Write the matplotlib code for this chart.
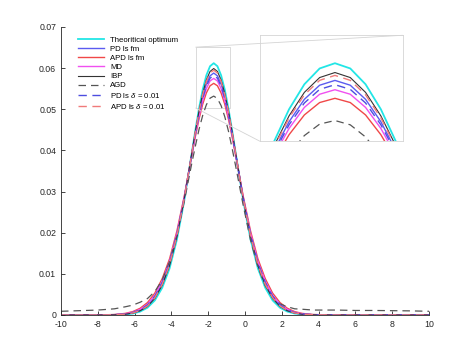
import numpy as np
import matplotlib
matplotlib.use("Agg")
import matplotlib.pyplot as plt
from matplotlib.patches import Rectangle, ConnectionPatch

plt.rcParams['font.family'] = ['Liberation Sans', 'DejaVu Sans']
plt.rcParams['axes.unicode_minus'] = False
plt.rcParams['mathtext.fontset'] = 'custom'
plt.rcParams['mathtext.it'] = 'Liberation Sans:italic'
plt.rcParams['mathtext.rm'] = 'Liberation Sans'

# grid points (support of the discrete measures)
x = [-10, -9, -8, -7.1, -6.5, -6.1, -5.7, -5.3, -4.9, -4.5, -4.1, -3.7, -3.3, -2.9,
     -2.7, -2.5, -2.3, -2.1, -1.9, -1.7, -1.5, -1.3, -1.1, -0.9, -0.7,
     -0.5, -0.1, 0.3, 0.7, 1.1, 1.5, 1.9, 2.3, 2.7, 3.1, 3.7, 5, 6, 7, 8, 9, 10]

theory = [0, 0, 0, 0.00003, 0.00014, 0.00035, 0.00083, 0.00177, 0.00355, 0.00661,
          0.01132, 0.01836, 0.02785, 0.03917, 0.04486, 0.05018, 0.05477, 0.05826,
          0.06047, 0.0612, 0.06047, 0.05826, 0.05477, 0.05018, 0.04486, 0.03917,
          0.02785, 0.01836, 0.01132, 0.00661, 0.00355, 0.00177, 0.00083, 0.00035,
          0.00014, 0.00003, 0, 0, 0, 0, 0, 0]
pd_fm = [0, 0, 0, 0.00005, 0.00023, 0.00053, 0.00115, 0.00230, 0.00433, 0.00762,
         0.01239, 0.01935, 0.02838, 0.03890, 0.04413, 0.04893, 0.05303, 0.05616,
         0.05813, 0.0588, 0.05813, 0.05616, 0.05303, 0.04893, 0.04413, 0.03890,
         0.02838, 0.01935, 0.01239, 0.00762, 0.00433, 0.00230, 0.00115, 0.00053,
         0.00023, 0.00005, 0, 0, 0, 0, 0, 0]
apd_fm = [0, 0, 0, 0.00011, 0.00039, 0.00082, 0.00163, 0.00302, 0.00532, 0.00884,
          0.01365, 0.02043, 0.02892, 0.03858, 0.04330, 0.04759, 0.05122, 0.05398,
          0.05571, 0.0563, 0.05571, 0.05398, 0.05122, 0.04759, 0.04330, 0.03858,
          0.02892, 0.02043, 0.01365, 0.00884, 0.00532, 0.00302, 0.00163, 0.00082,
          0.00039, 0.00011, 0, 0, 0, 0, 0, 0]
md = [0, 0, 0, 0.00008, 0.00030, 0.00066, 0.00138, 0.00264, 0.00481, 0.00823,
      0.01302, 0.01990, 0.02866, 0.03874, 0.04370, 0.04824, 0.05209, 0.05503,
      0.05687, 0.0575, 0.05687, 0.05503, 0.05209, 0.04824, 0.04370, 0.03874,
      0.02866, 0.01990, 0.01302, 0.00823, 0.00481, 0.00264, 0.00138, 0.00066,
      0.00030, 0.00008, 0, 0, 0, 0, 0, 0]
ibp = [0, 0, 0, 0.00004, 0.00019, 0.00046, 0.00102, 0.00208, 0.00403, 0.00724,
       0.01199, 0.01902, 0.02826, 0.03912, 0.04456, 0.04957, 0.05385, 0.05713,
       0.05920, 0.0599, 0.05920, 0.05713, 0.05385, 0.04957, 0.04456, 0.03912,
       0.02826, 0.01902, 0.01199, 0.00724, 0.00403, 0.00208, 0.00102, 0.00046,
       0.00019, 0.00004, 0, 0, 0, 0, 0, 0]
agd = [0.0009, 0.00105, 0.0012, 0.0015, 0.0020, 0.0024, 0.0031, 0.0040, 0.0057, 0.0085,
       0.0130, 0.0194, 0.0276, 0.0367, 0.0410, 0.0451, 0.0485, 0.0511,
       0.0527, 0.0532, 0.0526, 0.0509, 0.0482, 0.0447, 0.0405, 0.0360,
       0.0267, 0.0182, 0.0117, 0.0071, 0.0044, 0.0027, 0.0020, 0.0015,
       0.0014, 0.0012, 0.0012, 0.0011, 0.0011, 0.00105, 0.0010, 0.0009]
pd_delta = [0, 0, 0, 0.00007, 0.00026, 0.00060, 0.00126, 0.00247, 0.00457, 0.00794,
            0.01272, 0.01965, 0.02855, 0.03886, 0.04396, 0.04864, 0.05261, 0.05565,
            0.05755, 0.0582, 0.05755, 0.05565, 0.05261, 0.04864, 0.04396, 0.03886,
            0.02855, 0.01965, 0.01272, 0.00794, 0.00457, 0.00247, 0.00126, 0.00060,
            0.00026, 0.00007, 0, 0, 0, 0, 0, 0]
apd_delta = [0, 0, 0, 0.00005, 0.00021, 0.00049, 0.00109, 0.00220, 0.00419, 0.00745,
             0.01222, 0.01924, 0.02839, 0.03911, 0.04446, 0.04938, 0.05357, 0.05679,
             0.05881, 0.0595, 0.05881, 0.05679, 0.05357, 0.04938, 0.04446, 0.03911,
             0.02839, 0.01924, 0.01222, 0.00745, 0.00419, 0.00220, 0.00109, 0.00049,
             0.00021, 0.00005, 0, 0, 0, 0, 0, 0]

labels = ['Theoritical optimum', 'PD ls fm', 'APD ls fm', 'MD', 'IBP', 'AGD',
          r'PD ls $\delta$ = 0.01', r'APD ls $\delta$ = 0.01']

series = [
    (theory, dict(color='#22e6e6', lw=1.3, ls='-')),
    (pd_fm, dict(color='#5b5bf0', lw=1.0, ls='-')),
    (apd_fm, dict(color='#f04848', lw=1.0, ls='-')),
    (md, dict(color='#f050f0', lw=1.0, ls='-')),
    (ibp, dict(color='#333333', lw=0.8, ls='-')),
    (agd, dict(color='#555555', lw=0.9, ls=(0, (6, 4)))),
    (pd_delta, dict(color='#4d4de0', lw=1.0, ls=(0, (6, 4)))),
    (apd_delta, dict(color='#f07a7a', lw=1.0, ls=(0, (6, 4)))),
]

fig = plt.figure(figsize=(4.74, 3.55), dpi=100)
ax = fig.add_axes([0.1287, 0.1127, 0.7764, 0.8113])

for (y, st), lab in zip(series, labels):
    ax.plot(x, y, label=lab, **st)

ax.set_xlim(-10, 10)
ax.set_ylim(0, 0.07)
ax.set_xticks(np.arange(-10, 11, 2))
ax.set_yticks(np.arange(0, 0.071, 0.01))
ax.set_yticklabels(['0', '0.01', '0.02', '0.03', '0.04', '0.05', '0.06', '0.07'])
ax.spines['top'].set_visible(False)
ax.spines['right'].set_visible(False)
for s in ['left', 'bottom']:
    ax.spines[s].set_color('#262626')
    ax.spines[s].set_linewidth(0.6)
ax.tick_params(direction='in', length=3, width=0.6, labelsize=6.3, colors='#262626')

ax.legend(loc='upper left', bbox_to_anchor=(0.046, 0.968), frameon=False,
          fontsize=5.6, handlelength=3.4, handletextpad=0.75, labelspacing=0.22,
          borderpad=0, borderaxespad=0)

# zoomed region
x0, x1, y0, y1 = -2.68, -0.815, 0.0503, 0.0651
ax.add_patch(Rectangle((x0, y0), x1 - x0, y1 - y0, fill=False, ec='#d4d4d4', lw=0.6))

axins = fig.add_axes([0.5485, 0.602, 0.301, 0.2986])
for (y, st), lab in zip(series, labels):
    axins.plot(x, y, **st)
axins.set_xlim(x0, x1)
axins.set_ylim(y0, y1)
axins.set_xticks([])
axins.set_yticks([])
for s in axins.spines.values():
    s.set_color('#d4d4d4')
    s.set_linewidth(0.6)

for pa, pb in [((x0, y1), (x1, y1)), ((x0, y0), (x0, y0))]:
    con = ConnectionPatch(xyA=pa, coordsA='data', axesA=ax,
                          xyB=pb, coordsB='data', axesB=axins,
                          color='#d4d4d4', lw=0.6)
    fig.add_artist(con)

fig.savefig('out.png', dpi=100)
